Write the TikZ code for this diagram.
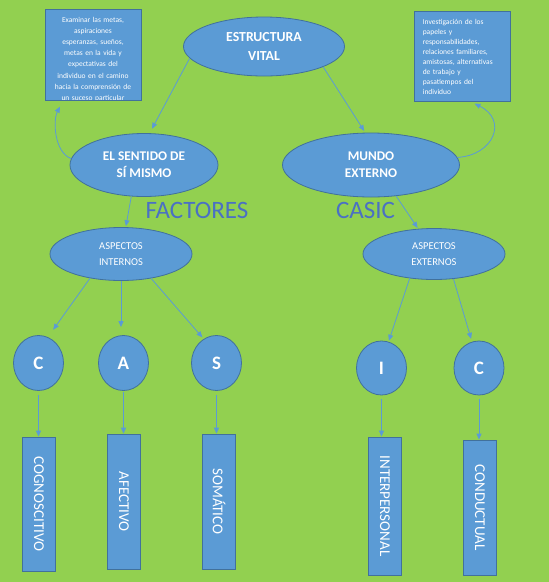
\documentclass[tikz,border=0pt]{standalone}
\usepackage{fontspec}
\setmainfont{Carlito}
\usetikzlibrary{arrows.meta,calc,shapes.geometric}
\definecolor{Grass}{HTML}{92D050}
\definecolor{Cell}{HTML}{5B9BD5}
\definecolor{CellEdge}{HTML}{41719C}
\definecolor{Heading}{HTML}{4A70C4}

\begin{document}
\begin{tikzpicture}[x=1pt,y=-1pt,
    oval/.style={ellipse,draw=CellEdge,fill=Cell,text=white,inner sep=0pt,align=center,line width=.8pt},
    info/.style={rectangle,draw=CellEdge,fill=Cell,line width=.8pt,minimum width=96pt,inner sep=0pt},
    infotxt/.style={text=white,inner sep=0pt,text width=88pt,font=\fontsize{7.5}{11.2}\selectfont},
    letter/.style={oval,minimum width=50pt,minimum height=55pt,font=\fontsize{19}{19}\selectfont\bfseries},
    bar/.style={rectangle,draw=CellEdge,fill=Cell,text=white,line width=.8pt,rotate=-90,
                minimum height=33pt,inner sep=0pt,font=\fontsize{15}{15}\selectfont},
    arr/.style={-{Triangle[length=6pt,width=5pt]},Cell,line width=.8pt},
    heading/.style={text=Heading,anchor=base,inner sep=0pt,font=\fontsize{25}{25}\selectfont}]
    \fill[Grass] (0,0) rectangle (549,582);
    % top level
    \node[oval,minimum width=161pt,minimum height=59pt,font=\fontsize{13.8}{19}\selectfont\bfseries] (vital) at (264,46.5) {ESTRUCTURA\\VITAL};
    \node[info,minimum height=91pt] (goals) at (93,54.5) {};
    \node[info,minimum height=90pt] (roles) at (462,56) {};
    \begin{scope}
      \clip ($(goals.north west)+(1,1)$) rectangle ($(goals.south east)+(-1,-1)$);
      \node[infotxt,align=center,anchor=north] (goalstxt) at ($(goals.north)+(0,8)$) {Examinar las metas,\\aspiraciones\\esperanzas, sueños,\\metas en la vida y\\expectativas del\\individuo en el camino\\hacia la comprensión de\\un suceso particular};
    \end{scope}
    \node[infotxt,align=left,anchor=north west,font=\fontsize{7.5}{10}\selectfont] (rolestxt) at ($(roles.north west)+(9,8)$) {Investigación de los\\papeles y\\responsabilidades,\\relaciones familiares,\\amistosas, alternativas\\de trabajo y\\pasatiempos del\\individuo};
    % second level
    \node[oval,minimum width=148pt,minimum height=63pt,font=\fontsize{13.3}{17}\selectfont\bfseries] (self) at (144,165) {EL SENTIDO DE\\SÍ MISMO};
    \node[oval,minimum width=177pt,minimum height=64pt,font=\fontsize{13.3}{17}\selectfont\bfseries] (world) at (371,165) {MUNDO\\EXTERNO};
    \node[heading] (factores) at (197,218) {FACTORES};
    \node[heading] (casic) at (365.5,218) {CASIC};
    \node[oval,minimum width=142pt,minimum height=53pt,font=\fontsize{10.5}{16}\selectfont] (inner) at (121,254) {ASPECTOS\\INTERNOS};
    \node[oval,minimum width=142pt,minimum height=51pt,font=\fontsize{10.5}{16}\selectfont] (outer) at (434,254) {ASPECTOS\\EXTERNOS};
    % letters
    \node[letter] (lc) at (38.5,363) {C};
    \node[letter] (la) at (123.5,363) {A};
    \node[letter] (ls) at (216.5,363) {S};
    \node[letter,minimum height=54pt] (li) at (381.5,368) {I};
    \node[letter,minimum height=54pt] (lk) at (479,368) {C};
    % bars
    \node[bar,minimum width=134pt] (cog) at (39,504) {COGNOSCITIVO};
    \node[bar,minimum width=135pt] (afe) at (124,501.5) {AFECTIVO};
    \node[bar,minimum width=135pt] (som) at (219,501.5) {SOMÁTICO};
    \node[bar,minimum width=138pt] (inter) at (385,506) {INTERPERSONAL};
    \node[bar,minimum width=135pt] (cond) at (480,507.5) {CONDUCTUAL};
    % connectors
    \draw[arr,shorten >=5pt] (vital.189) -- (self.80);
    \draw[arr,shorten >=2pt] (vital.-19) -- (world.100);
    \draw[arr,shorten >=7pt] (self.175) .. controls (54,152) and (53,120) .. (goals.-123);
    \draw[arr,shorten >=5pt] (world.5) .. controls (494,155) and (508,120) .. (roles.-80);
    \draw[arr,shorten >=1pt] (self.-112) -- (inner.80);
    \draw[arr,shorten >=1pt] (world.-51) -- (outer.122);
    \draw[arr,shorten >=9pt] (inner.218) -- (lc.70);
    \draw[arr,shorten >=8pt] (inner.south) -- (inner.south |- la.north);
    \draw[arr,shorten >=2pt] (inner.-39) -- (ls.118);
    \draw[arr,shorten >=1pt] (outer.-135) -- (li.75);
    \draw[arr,shorten >=3pt] (outer.-52) -- (lk.105);
    \draw[arr,shorten <=4pt] (lc.south) -- (lc.south |- cog.west);
    \draw[arr,shorten <=1pt] (la.south) -- (la.south |- afe.west);
    \draw[arr,shorten <=4pt] (ls.south) -- (ls.south |- som.west);
    \draw[arr,shorten <=4pt] (li.south) -- (li.south |- inter.west);
    \draw[arr,shorten <=4pt] (lk.south) -- (lk.south |- cond.west);
\end{tikzpicture}
\end{document}
